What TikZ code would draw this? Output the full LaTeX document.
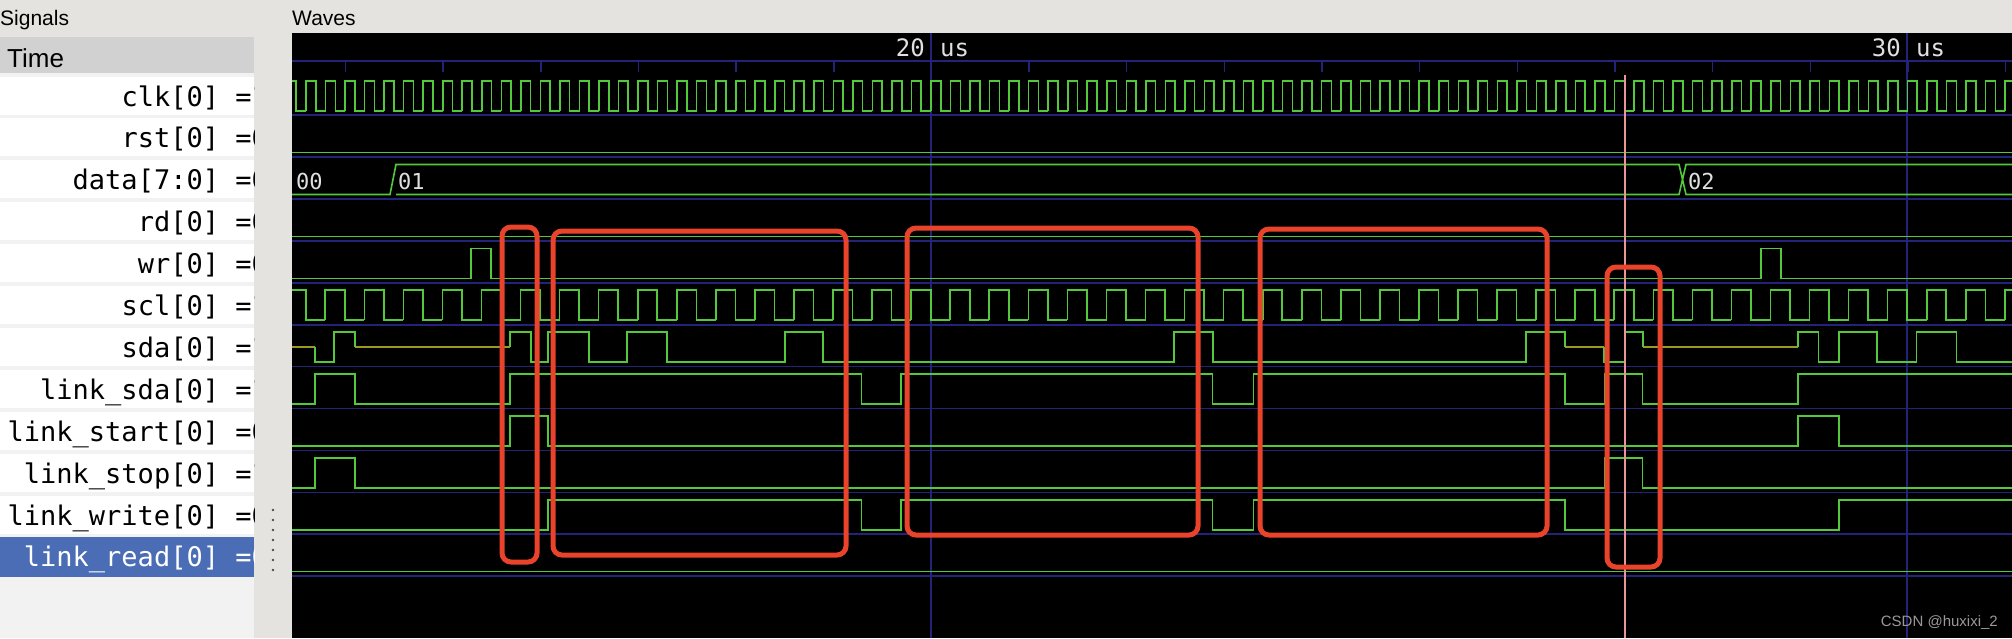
\documentclass[tikz,border=0pt]{standalone}
\usepackage{fontspec}
\setmainfont{Liberation Sans}
\newfontfamily\lblfont{DejaVu Sans Mono}
\begin{document}
\begin{tikzpicture}[x=1pt,y=-1pt,
  wave/.style={draw=wgreen,line width=1.6pt,line join=miter},
  zwave/.style={draw=wyellow,line width=1.6pt},
  sep/.style={draw=sepblue,line width=1.6pt},
  redbox/.style={draw=boxred,line width=5pt,rounded corners=9pt},
  lbl/.style={anchor=base east,inner sep=0pt,font=\lblfont\fontsize{27}{27}\selectfont},
  hdr/.style={anchor=base west,inner sep=0pt,font=\fontsize{21}{21}\selectfont}]
\definecolor{wgreen}{HTML}{52C83A}
\definecolor{wyellow}{HTML}{9A9A22}
\definecolor{sepblue}{HTML}{23237A}
\definecolor{boxred}{HTML}{E9432B}
\definecolor{panelbg}{HTML}{E4E3DF}
\definecolor{selblue}{HTML}{4A6DB5}
\useasboundingbox (0,0) rectangle (2012,638);
\fill[panelbg] (0,0) rectangle (2012,638);
% headers
\node[hdr] (hsig) at (0,25) {Signals};
\node[hdr] (hwav) at (292,25) {Waves};
% signal panel
\fill[white!95!black] (0,37) rectangle (254,638);
\fill[black!18] (0,37) rectangle (254,73);
\node[anchor=base west,inner sep=0pt,font=\fontsize{26}{26}\selectfont] (ttime) at (7,67) {Time};
\foreach \i in {0,...,10}{
  \fill[white] (0,{76.5+41.9*\i}) rectangle (254,{114.5+41.9*\i});
}
\fill[selblue] (0,{76.5+41.9*11}) rectangle (254,{116.5+41.9*11});
\begin{scope}
\clip (0,37) rectangle (254,638);
\node[lbl] (l0) at (268,{106+41.9*0}) {clk[0] =1};
\node[lbl] (l1) at (268,{106+41.9*1}) {rst[0] =0};
\node[lbl] (l2) at (268,{106+41.9*2}) {data[7:0] =0};
\node[lbl] (l3) at (268,{106+41.9*3}) {rd[0] =0};
\node[lbl] (l4) at (268,{106+41.9*4}) {wr[0] =0};
\node[lbl] (l5) at (268,{106+41.9*5}) {scl[0] =1};
\node[lbl] (l6) at (268,{106+41.9*6}) {sda[0] =1};
\node[lbl] (l7) at (268,{106+41.9*7}) {link\_sda[0] =1};
\node[lbl] (l8) at (268,{106+41.9*8}) {link\_start[0] =0};
\node[lbl] (l9) at (268,{106+41.9*9}) {link\_stop[0] =1};
\node[lbl] (l10) at (268,{106+41.9*10}) {link\_write[0] =0};
\node[lbl,text=white] (l11) at (268,{106+41.9*11}) {link\_read[0] =0};
\end{scope}
\foreach \d in {0,...,6}{ \fill[black!70] (273,{510+\d*10}) circle (1.3); }
% waves area
\fill[black] (292,33) rectangle (2012,638);
\begin{scope}
\clip (292,33) rectangle (2012,638);
\draw[sep] (292,61) -- (2012,61);
\foreach \k in {0,...,17}{ \draw[sep] ({345.4+97.66*\k},61) -- ({345.4+97.66*\k},72); }
\draw[sep] (931,33) -- (931,638);
\draw[sep] (1907,33) -- (1907,638);
\node[anchor=base east,inner sep=0pt,text=white!88!black,font=\lblfont\fontsize{24}{24}\selectfont] (t20) at (925,56) {20};
\node[anchor=base west,inner sep=0pt,text=white!88!black,font=\lblfont\fontsize{24}{24}\selectfont] (t20u) at (940,56) {us};
\node[anchor=base east,inner sep=0pt,text=white!88!black,font=\lblfont\fontsize{24}{24}\selectfont] (t30) at (1901,56) {30};
\node[anchor=base west,inner sep=0pt,text=white!88!black,font=\lblfont\fontsize{24}{24}\selectfont] (t30u) at (1916,56) {us};
\foreach \i in {0,...,11}{ \draw[sep] (292,{115.2+41.9*\i}) -- (2012,{115.2+41.9*\i}); }
% clk
\foreach \k in {0,...,88}{
  \pgfmathsetmacro\r{286.5+19.53*\k}
  \draw[wave] (\r,110.7) -- (\r,80.7) -- ({\r+9.77},80.7) -- ({\r+9.77},110.7) -- ({\r+19.6},110.7);
}
% rst, rd, link_read
\draw[wave] (292,152.6) -- (2012,152.6);
\draw[wave] (292,236.4) -- (2012,236.4);
\draw[wave] (292,571.6) -- (2012,571.6);
% data
\draw[wave] (292,194.5) -- (390,194.5) -- (396,164.5) -- (1679,164.5) -- (1682.5,179.5) -- (1686,164.5) -- (2012,164.5);
\draw[wave] (396,194.5) -- (1679,194.5) -- (1682.5,179.5) -- (1686,194.5) -- (2012,194.5);
\node[anchor=base west,inner sep=0pt,text=white!88!black,font=\lblfont\fontsize{22}{22}\selectfont] (d00) at (296,189) {00};
\node[anchor=base west,inner sep=0pt,text=white!88!black,font=\lblfont\fontsize{22}{22}\selectfont] (d01) at (398,189) {01};
\node[anchor=base west,inner sep=0pt,text=white!88!black,font=\lblfont\fontsize{22}{22}\selectfont] (d02) at (1688,189) {02};
% wr
\draw[wave] (292,278.3) -- (471,278.3) -- (471,248.3) -- (491,248.3) -- (491,278.3) -- (1761,278.3) -- (1761,248.3) -- (1781,248.3) -- (1781,278.3) -- (2012,278.3);
% scl
\foreach \k in {0,...,44}{
  \pgfmathsetmacro\r{286.2+39.06*\k}
  \draw[wave] (\r,320.2) -- (\r,290.2) -- ({\r+19.53},290.2) -- ({\r+19.53},320.2) -- ({\r+39.1},320.2);
}
% sda
\def\H{332.1}\def\M{347.1}\def\L{362.1}
\draw[zwave] (292,\M) -- (315,\M);
\draw[zwave] (355,\M) -- (510,\M);
\draw[zwave] (1565,\M) -- (1604,\M);
\draw[zwave] (1643,\M) -- (1798,\M);
\draw[wave] (315,\M) -- (315,\L) -- (334,\L) -- (334,\H) -- (355,\H) -- (355,\M);
\draw[wave] (510,\M) -- (510,\H) -- (531,\H) -- (531,\L) -- (548,\L) -- (548,\H) -- (589,\H) -- (589,\L) -- (627,\L) -- (627,\H) -- (667,\H) -- (667,\L) -- (785,\L) -- (785,\H) -- (823,\H) -- (823,\L) -- (1174,\L) -- (1174,\H) -- (1213,\H) -- (1213,\L) -- (1526,\L) -- (1526,\H) -- (1565,\H) -- (1565,\M);
\draw[wave] (1604,\M) -- (1604,\L) -- (1625,\L) -- (1625,\H) -- (1643,\H) -- (1643,\M);
\draw[wave] (1798,\M) -- (1798,\H) -- (1818.5,\H) -- (1818.5,\L) -- (1839,\L) -- (1839,\H) -- (1877,\H) -- (1877,\L) -- (1916.5,\L) -- (1916.5,\H) -- (1956.6,\H) -- (1956.6,\L) -- (2012,\L);
% link_sda
\def\H{374}\def\L{404}
\draw[wave] (292,\L) -- (315,\L) -- (315,\H) -- (355,\H) -- (355,\L) -- (510,\L) -- (510,\H) -- (861.6,\H) -- (861.6,\L) -- (901,\L) -- (901,\H) -- (1212.5,\H) -- (1212.5,\L) -- (1253.6,\L) -- (1253.6,\H) -- (1565,\H) -- (1565,\L) -- (1604.5,\L) -- (1604.5,\H) -- (1642.5,\H) -- (1642.5,\L) -- (1798,\L) -- (1798,\H) -- (2012,\H);
% link_start
\def\H{415.9}\def\L{445.9}
\draw[wave] (292,\L) -- (510,\L) -- (510,\H) -- (548,\H) -- (548,\L) -- (1798,\L) -- (1798,\H) -- (1839,\H) -- (1839,\L) -- (2012,\L);
% link_stop
\def\H{457.8}\def\L{487.8}
\draw[wave] (292,\L) -- (315,\L) -- (315,\H) -- (355,\H) -- (355,\L) -- (1604.5,\L) -- (1604.5,\H) -- (1642.5,\H) -- (1642.5,\L) -- (2012,\L);
% link_write
\def\H{499.7}\def\L{529.7}
\draw[wave] (292,\L) -- (548,\L) -- (548,\H) -- (861.6,\H) -- (861.6,\L) -- (901,\L) -- (901,\H) -- (1212.5,\H) -- (1212.5,\L) -- (1253.6,\L) -- (1253.6,\H) -- (1565,\H) -- (1565,\L) -- (1839,\L) -- (1839,\H) -- (2012,\H);
% cursor
\draw[draw={rgb,255:red,232;green,150;blue,150},line width=1.5pt] (1625,75) -- (1625,638);
% red boxes
\draw[redbox] (502,227) rectangle (537,562);
\draw[redbox] (553,231) rectangle (846,555);
\draw[redbox] (907,228) rectangle (1198,535);
\draw[redbox] (1260,229) rectangle (1547,535);
\draw[redbox] (1607,267) rectangle (1660,567);
\node[anchor=base east,inner sep=0pt,text=black!40,font=\fontsize{15}{15}\selectfont] (wm) at (1998,626) {CSDN @huxixi\_2};
\end{scope}
\end{tikzpicture}
\end{document}
